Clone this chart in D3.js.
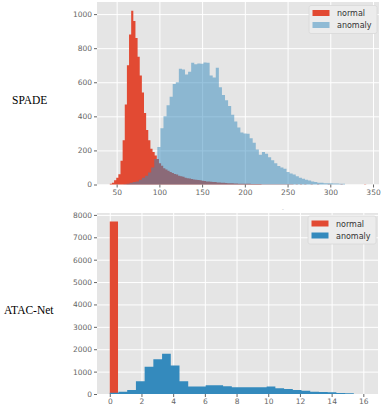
<!DOCTYPE html>
<html>
<head>
<meta charset="utf-8">
<script src="https://cdn.jsdelivr.net/npm/d3@7"></script>
<style>
  body { margin: 0; background: #fff; }
  svg { display: block; }
</style>
</head>
<body>
<div id="chart"></div>
<script>
// SPADE: score histograms, bins are given by start + width
var spadeNormalStart = 42, spadeNormalWidth = 2.5
var spadeNormal = [
    5, 10, 25, 40, 60, 140, 260, 470, 700, 880,
    1020, 960, 860, 750, 640, 540, 420, 320, 260, 210,
    190, 170, 150, 125, 110, 95, 88, 80, 74, 68,
    62, 58, 52, 48, 45, 40, 36, 35, 32, 30,
    28, 26, 25, 22, 20, 18, 17, 16, 15, 14,
    12, 12, 10, 10, 9, 8, 8, 7, 6, 6,
    5, 5, 5, 4, 4, 4, 3, 3, 3, 3,
    3, 2, 2, 2, 2, 2, 2, 1, 1, 1,
    1, 1, 1, 1, 1, 1, 0, 1, 0, 1,
    0, 1, 0, 0, 1, 0, 0, 1, 0, 0,
    0, 0, 1, 0, 0, 0, 0, 0, 1, 0,
    0, 0, 0, 0, 0, 0, 0, 0, 0, 2
]
var spadeAnomalyStart = 58, spadeAnomalyWidth = 3.6
var spadeAnomaly = [
    2, 5, 10, 14, 18, 28, 40, 52, 70, 100,
    150, 220, 330, 400, 465, 515, 590, 600, 680, 675,
    645, 662, 715, 705, 710, 708, 716, 715, 640, 628,
    685, 570, 525, 495, 460, 410, 370, 335, 305, 300,
    298, 272, 245, 205, 175, 190, 180, 160, 143, 125,
    108, 100, 92, 74, 65, 58, 48, 40, 34, 28,
    24, 18, 15, 11, 10, 8, 8, 7, 6, 6,
    5, 4
]
var spadeXTicks = [50, 100, 150, 200, 250, 300, 350]
var spadeYTicks = [0, 200, 400, 600, 800, 1000]

// ATAC-Net
var atacNormalStart = 0, atacNormalWidth = 0.52
var atacNormal = [
    7700, 0, 0, 0, 0, 0, 0, 0, 0, 0,
    0, 0, 0, 0, 0, 0, 0, 0, 0, 0,
    0, 0, 0, 0, 0, 0, 0, 0, 0, 0, 1
]
var atacAnomalyStart = 0, atacAnomalyWidth = 0.55
var atacAnomaly = [
    60, 100, 180, 570, 1220, 1550, 1800, 1270, 570, 340,
    340, 390, 390, 350, 300, 300, 300, 300, 340, 260,
    220, 180, 150, 100, 90, 75, 40, 35
]
var atacXTicks = [0, 2, 4, 6, 8, 10, 12, 14, 16]
var atacYTicks = [0, 1000, 2000, 3000, 4000, 5000, 6000, 7000, 8000]

var seriesNames = ["normal", "anomaly"]
var red = "#E24A33", blue = "#348ABD"

var svg = d3.select("#chart")
    .append("svg")
    .attr("width", 383)
    .attr("height", 411)

// turn counts into step points for an area
function stepPoints(start, width, counts) {
    var pts = counts.map(function (c, i) { return [start + i * width, c] })
    pts.push([start + counts.length * width, counts[counts.length - 1]])
    return pts
}

function drawPanel(opt) {
    var normalPts = stepPoints(opt.nStart, opt.nWidth, opt.normal)
    var anomalyPts = stepPoints(opt.aStart, opt.aWidth, opt.anomaly)
    var all = normalPts.concat(anomalyPts)

    var xMin = d3.min(all, function (d) { return d[0] })
    var xMax = d3.max(all, function (d) { return d[0] })
    var pad = (xMax - xMin) * 0.05
    var yMax = d3.max(all, function (d) { return d[1] }) * 1.05

    var x = d3.scaleLinear().domain([xMin - pad, xMax + pad]).range([opt.left, opt.right])
    var y = d3.scaleLinear().domain([0, yMax]).range([opt.bottom, opt.top])

    var g = svg.append("g")

    g.append("rect")
        .attr("x", opt.left)
        .attr("y", opt.top)
        .attr("width", opt.right - opt.left)
        .attr("height", opt.bottom - opt.top)
        .attr("fill", "#E5E5E5")

    // white grid
    g.append("g")
        .attr("transform", "translate(0," + opt.bottom + ")")
        .call(d3.axisBottom(x).tickValues(opt.xTicks).tickSize(-(opt.bottom - opt.top)).tickFormat(""))
        .call(function (s) { s.select(".domain").remove() })
        .selectAll("line").attr("stroke", "#fff").attr("stroke-width", 1)
    g.append("g")
        .attr("transform", "translate(" + opt.left + ",0)")
        .call(d3.axisLeft(y).tickValues(opt.yTicks).tickSize(-(opt.right - opt.left)).tickFormat(""))
        .call(function (s) { s.select(".domain").remove() })
        .selectAll("line").attr("stroke", "#fff").attr("stroke-width", 1)

    var area = d3.area()
        .curve(d3.curveStepAfter)
        .x(function (d) { return x(d[0]) })
        .y0(y(0))
        .y1(function (d) { return y(d[1]) })

    g.append("path")
        .datum(normalPts)
        .attr("d", area)
        .attr("fill", red)

    g.append("path")
        .datum(anomalyPts)
        .attr("d", area)
        .attr("fill", blue)
        .attr("fill-opacity", opt.alpha)

    // axes
    var xAxis = g.append("g")
        .attr("transform", "translate(0," + opt.bottom + ")")
        .call(d3.axisBottom(x).tickValues(opt.xTicks).tickFormat(d3.format("d")).tickSize(3).tickPadding(2))
    var yAxis = g.append("g")
        .attr("transform", "translate(" + opt.left + ",0)")
        .call(d3.axisLeft(y).tickValues(opt.yTicks).tickFormat(d3.format("d")).tickSize(3).tickPadding(2))
    ;[xAxis, yAxis].forEach(function (a) {
        a.select(".domain").remove()
        a.selectAll("line").attr("stroke", "#666")
        a.selectAll("text")
            .attr("fill", "#666")
            .style("font-family", "DejaVu Sans")
            .style("font-size", "7.5px")
    })

    // legend
    var lg = g.append("g")
    lg.append("rect")
        .attr("x", opt.lx)
        .attr("y", opt.ly)
        .attr("width", 68)
        .attr("height", 28)
        .attr("rx", 2)
        .attr("fill", "#ECECEC")
        .attr("stroke", "#D8D8D8")
        .attr("stroke-width", 0.8)
    seriesNames.forEach(function (name, i) {
        lg.append("rect")
            .attr("x", opt.lx + 3.5)
            .attr("y", opt.ly + 4.5 + i * 12)
            .attr("width", 17)
            .attr("height", 6)
            .attr("fill", i == 0 ? red : blue)
            .attr("fill-opacity", i == 0 ? 1 : opt.alpha)
        lg.append("text")
            .attr("x", opt.lx + 28)
            .attr("y", opt.ly + 10.5 + i * 12)
            .text(name)
            .attr("fill", "#333")
            .style("font-family", "DejaVu Sans")
            .style("font-size", "8px")
    })

    svg.append("text")
        .attr("x", opt.labelX)
        .attr("y", opt.labelY)
        .text(opt.label)
        .style("font-family", "Liberation Serif")
        .style("font-size", "11.5px")
        .attr("fill", "#000")
}

drawPanel({
    normal: spadeNormal, nStart: spadeNormalStart, nWidth: spadeNormalWidth,
    anomaly: spadeAnomaly, aStart: spadeAnomalyStart, aWidth: spadeAnomalyWidth,
    xTicks: spadeXTicks, yTicks: spadeYTicks, alpha: 0.5,
    left: 97, right: 379, top: 2, bottom: 184.5,
    lx: 309, ly: 5.5, label: "SPADE", labelX: 12, labelY: 104
})

drawPanel({
    normal: atacNormal, nStart: atacNormalStart, nWidth: atacNormalWidth,
    anomaly: atacAnomaly, aStart: atacAnomalyStart, aWidth: atacAnomalyWidth,
    xTicks: atacXTicks, yTicks: atacYTicks, alpha: 1,
    left: 97, right: 378, top: 213, bottom: 394,
    lx: 308, ly: 216, label: "ATAC-Net", labelX: 4, labelY: 314
})

// stray mark between the panels
svg.append("text")
    .attr("x", 282)
    .attr("y", 211)
    .text("-")
    .attr("fill", "#aaa")
    .style("font-family", "DejaVu Sans")
    .style("font-size", "5px")
</script>
</body>
</html>
